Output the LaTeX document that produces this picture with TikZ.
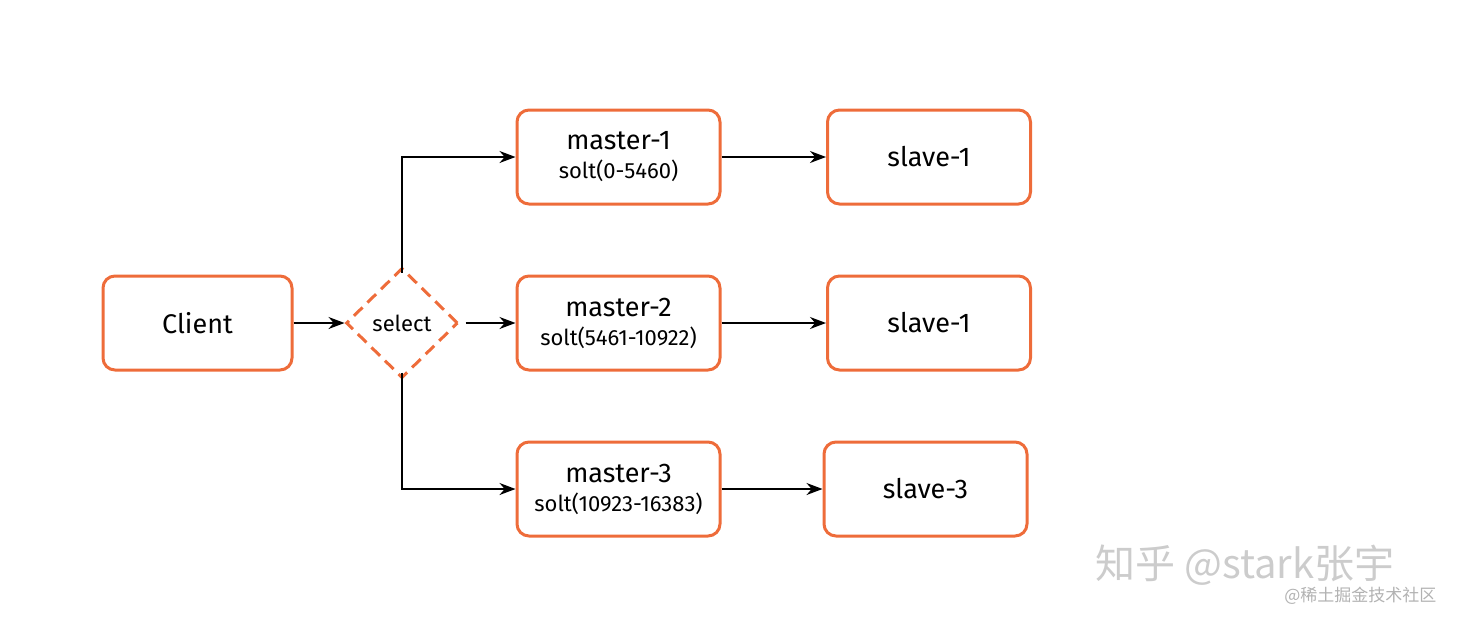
\documentclass[tikz,border=0pt]{standalone}
\usepackage{fontspec}
\setmainfont{Fira Sans}
\newfontfamily\cjk{Noto Sans CJK SC}
\usetikzlibrary{shapes.geometric,arrows.meta}
\definecolor{org}{HTML}{EE6C3A}
\begin{document}
\begin{tikzpicture}[x=1pt,y=-1pt,
  box/.style={draw=org,line width=3pt,rounded corners=12pt,minimum width=203pt,minimum height=94pt,align=center,font=\fontsize{27}{30}\selectfont,inner sep=0pt},
  arr/.style={-{Stealth[length=16pt,width=12pt]},line width=1.5pt}]
\useasboundingbox (0,0) rectangle (1458,624);
\node[box,minimum width=189pt] (client) at (197.5,323) {Client};
\node[draw=org,line width=3pt,dashed,dash pattern=on 12pt off 7pt,diamond,minimum width=112pt,minimum height=110pt,inner sep=0pt,font=\fontsize{22}{24}\selectfont] (sel) at (402,323) {select};
\node[box] (m1) at (618.5,157) {master-1\\[-1pt]{\fontsize{22}{25}\selectfont solt(0-5460)}};
\node[box] (m2) at (618.5,323) {master-2\\[-1pt]{\fontsize{22}{25}\selectfont solt(5461-10922)}};
\node[box] (m3) at (618.5,489) {master-3\\[-1pt]{\fontsize{22}{25}\selectfont solt(10923-16383)}};
\node[box] (s1) at (929,157) {slave-1};
\node[box] (s2) at (929,323) {slave-1};
\node[box] (s3) at (925.5,489) {slave-3};
\draw[arr] (client) -- (sel);
\draw[arr] ([xshift=6pt]sel.east) -- (m2);
\draw[arr] ([yshift=-6pt]sel.north) |- (m1);
\draw[arr] ([yshift=7pt]sel.south) |- (m3);
\draw[arr] (m1) -- (s1);
\draw[arr] (m2) -- (s2);
\draw[arr] (m3) -- (s3);
\node[text=gray!40,font=\cjk\fontsize{40}{44}\selectfont,anchor=west] (wm1) at (1092,565) {知乎 @stark张宇};
\node[text=gray!60,font=\cjk\fontsize{17}{20}\selectfont,anchor=east] (wm2) at (1440,596) {@稀土掘金技术社区};
\end{tikzpicture}
\end{document}
